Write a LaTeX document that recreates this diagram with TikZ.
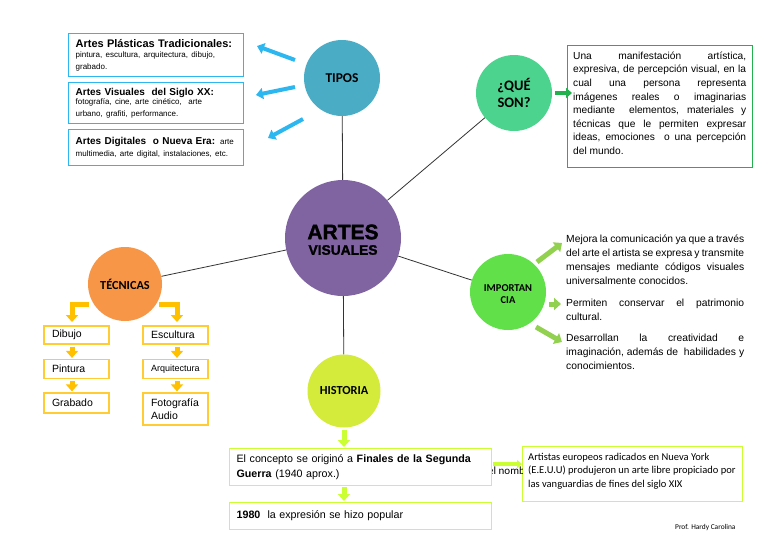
\documentclass[tikz,border=0pt]{standalone}
\usepackage{fontspec}
\setmainfont{Liberation Sans}
\newfontfamily\calib{Carlito}
\newfontfamily\heavyfont[BoldFeatures={FakeBold=1.6}]{Liberation Sans}
\usetikzlibrary{arrows.meta}
\definecolor{ctipos}{HTML}{4BACC6}
\definecolor{cblue}{HTML}{2DB7F0}
\definecolor{cque}{HTML}{4CD38E}
\definecolor{cqueb}{HTML}{22B14C}
\definecolor{cart}{HTML}{8064A2}
\definecolor{ctec}{HTML}{F79646}
\definecolor{cyel}{HTML}{FFC000}
\definecolor{cimp}{HTML}{62E04A}
\definecolor{cimpa}{HTML}{92D050}
\definecolor{chis}{HTML}{D4EB3C}
\definecolor{clime}{HTML}{CCFF33}
\definecolor{cline}{HTML}{333333}
\tikzset{
  circ/.style={circle, inner sep=0pt, align=center, text=black},
  conn/.style={draw=cline, line width=0.8pt},
  bluebox/.style={draw=cblue, line width=1.3pt, anchor=north west, align=left, text width=161pt, inner xsep=7pt, inner ysep=2pt},
  tbox/.style={draw=cyel!80, line width=1.2pt, align=left, text width=49pt, inner xsep=8pt, inner ysep=2pt, font=\fontsize{10.5}{13}\selectfont},
  hbox/.style={draw=clime, line width=1.2pt, anchor=north west, align=left, inner xsep=7pt, inner ysep=2pt},
}
\begin{document}
\hyphenpenalty=10000 \exhyphenpenalty=10000 \tolerance=10000
\begin{tikzpicture}[x=1pt,y=-1pt]
\useasboundingbox (0,0) rectangle (768,544);
\fill[white] (0,0) rectangle (768,544);

% circles
\node[circ, fill=cart, minimum size=116pt] (artes) at (343,238) {};
\node[font=\heavyfont\bfseries\fontsize{21}{22}\selectfont] (artesA) at (343,232) {ARTES};
\node[font=\heavyfont\bfseries\fontsize{13.8}{15}\selectfont] (artesV) at (343,250) {VISUALES};
\node[circ, fill=ctipos, minimum size=76pt, font=\calib\bfseries\fontsize{13.5}{15}\selectfont] (tipos) at (342,78) {TIPOS};
\node[circ, fill=cque, minimum size=76pt, font=\calib\bfseries\fontsize{14.5}{17}\selectfont] (que) at (514,93) {¿QUÉ\\SON?};
\node[circ, fill=ctec, minimum size=74pt, font=\calib\bfseries\fontsize{12.3}{14}\selectfont] (tec) at (125,284) {TÉCNICAS};
\node[circ, fill=cimp, minimum size=76pt] (imp) at (508,292) {};
\node[align=center, font=\calib\bfseries\fontsize{10.5}{12.5}\selectfont] (impt) at (508,294) {IMPORTAN\\CIA};
\node[circ, fill=chis, minimum size=73pt, font=\calib\bfseries\fontsize{12.3}{14}\selectfont] (his) at (344,391) {HISTORIA};

% connectors
\draw[conn] (artes) -- (tipos);
\draw[conn] (artes) -- (que);
\draw[conn] (artes) -- (tec);
\draw[conn] (artes) -- (imp);
\draw[conn] (artes) -- (his);

% TIPOS boxes
\node[bluebox, minimum height=43pt] (b1) at (68,33)
 {{\bfseries\fontsize{11}{12}\selectfont Artes Plásticas Tradicionales:}\\[-1pt]{\fontsize{8}{10.5}\selectfont pintura, escultura, arquitectura, dibujo,\\ grabado.}};
\node[bluebox, minimum height=41pt] (b2) at (68,82)
 {{\bfseries\fontsize{10}{12}\selectfont Artes Visuales\ \ del Siglo XX:}\\[-1pt]{\fontsize{8}{10.5}\selectfont fotografía, cine, arte cinético,\ \ arte\\ urbano, grafiti, performance.}};
\node[bluebox, minimum height=36pt] (b3) at (68,129)
 {{\bfseries\fontsize{10}{12}\selectfont Artes Digitales\ \ o Nueva Era:} {\fontsize{8}{10.5}\selectfont arte\\ multimedia, arte digital, instalaciones, etc.}};
\coordinate (t1s) at (295,60); \coordinate (t1e) at (257,46);
\coordinate (t2s) at (295,87); \coordinate (t2e) at (256,95);
\coordinate (t3s) at (303,119); \coordinate (t3e) at (268,138);
\tikzset{bluearr/.style={draw=cblue, line width=4pt, -{Triangle[width=11pt,length=7pt]}}}
\draw[bluearr] (t1s) -- (t1e);
\draw[bluearr] (t2s) -- (t2e);
\draw[bluearr] (t3s) -- (t3e);

% QUE SON box
\node[draw=cqueb, line width=1.2pt, anchor=north west, minimum width=185pt, minimum height=122pt] (qbox) at (567,45) {};
\node[anchor=north west, text width=173pt, align=justify, inner sep=0pt, font=\fontsize{10.2}{13.6}\selectfont] (qtext) at (573,51.5)
 {Una manifestación artística,\linebreak expresiva, de percepción visual, en la\linebreak cual una persona representa\linebreak imágenes reales o imaginarias\linebreak mediante\ \ elementos, materiales y\linebreak técnicas que le permiten expresar\linebreak ideas, emociones\ \ o una percepción\linebreak del mundo.};
\coordinate (qa) at (555,93); \coordinate (qb) at (572,93);
\draw[draw=cqueb, line width=4.5pt, -{Triangle[width=10pt,length=6pt]}] (qa) -- (qb);

% IMPORTANCIA
\tikzset{itext/.style={anchor=north west, text width=178pt, align=justify, inner sep=0pt, font=\fontsize{10.3}{13.8}\selectfont}}
\node[itext] (i1) at (566,235) {Mejora la comunicación ya que a través del arte el artista se expresa y transmite mensajes mediante códigos visuales universalmente conocidos.};
\node[itext] (i2) at (566,299) {Permiten conservar el patrimonio cultural.};
\node[itext] (i3) at (566,334) {Desarrollan la creatividad e imaginación, además de\ \ habilidades y conocimientos.};
\coordinate (ia1) at (537,262); \coordinate (ib1) at (562,243);
\coordinate (ia2) at (549,304); \coordinate (ib2) at (561,304);
\coordinate (ia3) at (536,327); \coordinate (ib3) at (562,342);
\tikzset{greenarr/.style={draw=cimpa, line width=5pt, -{Triangle[width=12pt,length=7pt]}}}
\draw[greenarr] (ia1) -- (ib1);
\draw[greenarr] (ia2) -- (ib2);
\draw[greenarr] (ia3) -- (ib3);

% TECNICAS
\node[tbox, minimum height=18pt] (dib) at (76.5,335) {Dibujo};
\node[tbox, minimum height=19pt] (pin) at (76.5,369) {Pintura};
\node[tbox, minimum height=20pt] (gra) at (76.5,403) {Grabado};
\node[tbox, minimum height=18pt] (esc) at (175.5,335) {Escultura};
\node[tbox, minimum height=19pt, font=\fontsize{9}{10}\selectfont] (arq) at (175.5,369) {Arquitectura};
\node[tbox, minimum height=32pt, font=\fontsize{10.5}{13}\selectfont] (fot) at (175.5,409) {Fotografía\\Audio};
\tikzset{yarr/.style={draw=cyel, line width=5pt, -{Triangle[width=12pt,length=7pt]}}}
\coordinate (tl0) at (89,304); \coordinate (tl1) at (72,304); \coordinate (tl2) at (72,322);
\coordinate (tr0) at (159,304); \coordinate (tr1) at (177,304); \coordinate (tr2) at (177,322);
\draw[yarr] (tl0) -- (tl1) -- (tl2);
\draw[yarr] (tr0) -- (tr1) -- (tr2);
\draw[yarr] ([yshift=-2pt]dib.south -| tl1) -- ([yshift=1pt]pin.north -| tl1);
\draw[yarr] ([yshift=-2pt]pin.south -| tl1) -- ([yshift=1pt]gra.north -| tl1);
\draw[yarr] ([yshift=-2pt]esc.south -| tr1) -- ([yshift=1pt]arq.north -| tr1);
\draw[yarr] ([yshift=-2pt]arq.south -| tr1) -- ([yshift=1pt]fot.north -| tr1);

% HISTORIA
\node[hbox, minimum width=262pt, minimum height=37pt, text width=248pt, font=\fontsize{10.7}{14.5}\selectfont] (h1) at (229,448)
 {El concepto se originó a \textbf{Finales de la Segunda Guerra} (1940 aprox.)};
\node[hbox, minimum width=262pt, minimum height=27pt, text width=248pt, font=\fontsize{10.7}{14}\selectfont] (h2) at (229,502)
 {\textbf{1980}\ \ la expresión se hizo popular};
\node[hbox, minimum width=220pt, minimum height=55pt] (h3) at (522,446) {};
\node[anchor=north west, align=left, inner sep=0pt, font=\calib\fontsize{10.5}{13.5}\selectfont] (h3t) at (528,453)
 {Artistas europeos radicados en Nueva York\\(E.E.U.U) produjeron un arte libre propiciado por\\las vanguardias de fines del siglo XIX};
\begin{scope}
\clip (h1.east |- 0,455) rectangle (h3.west |- 0,480);
\node[anchor=base west, inner sep=0pt, font=\calib\fontsize{11}{13}\selectfont] (nomb) at (488,474) {el nomb};
\end{scope}
\tikzset{larr/.style={draw=clime, line width=5pt, -{Triangle[width=12pt,length=7pt]}}}
\draw[larr] ([yshift=-2pt]his.south) -- ([yshift=1pt]h1.north -| his.south);
\draw[larr] ([yshift=-1pt]h1.south -| his.south) -- ([yshift=1pt]h2.north -| his.south);
\coordinate (na) at (493,464);
\draw[draw=clime, line width=3.5pt, -{Triangle[width=8pt,length=5pt]}] (na) -- (na -| h3.west);

\node[anchor=west, inner sep=0pt, font=\calib\fontsize{7.4}{9}\selectfont] (prof) at (675,528) {Prof. Hardy Carolina};
\end{tikzpicture}
\end{document}
